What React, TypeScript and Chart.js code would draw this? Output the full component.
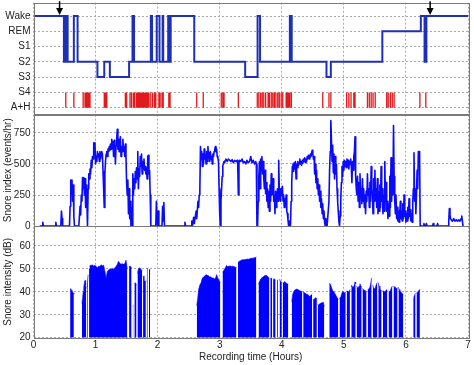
import React, { useEffect, useRef } from 'react';
import { Chart, registerables } from 'chart.js';
Chart.register(...registerables);

// ---- Data ----
const stageLabels = ['A+H', 'S4', 'S3', 'S2', 'S1', 'REM', 'Wake'];
const hypnoTimes = [0, 0.49, 0.52, 0.55, 0.65, 0.71, 1.03, 1.14, 1.23, 1.54, 1.595, 1.62, 1.89, 1.91, 1.985, 2.03, 2.08, 2.09, 2.17, 2.2, 2.21, 2.59, 3.41, 3.61, 3.65, 4.13, 4.16, 4.72, 4.79, 5.62, 6.24, 6.3, 6.33, 7];
const hypnoStages = ['Wake', 'S2', 'Wake', 'S2', 'Wake', 'S2', 'S3', 'S2', 'S3', 'S2', 'Wake', 'S2', 'Wake', 'S2', 'Wake', 'S2', 'Wake', 'S2', 'Wake', 'S2', 'Wake', 'S2', 'S3', 'Wake', 'S2', 'Wake', 'S2', 'S3', 'S2', 'REM', 'Wake', 'S2', 'Wake', 'Wake'];
const eventTimes = [0.52, 0.65, 0.8, 0.83, 0.85, 0.87, 0.89, 0.91, 1.14, 1.16, 1.18, 1.48, 1.5, 1.555, 1.58, 1.61, 1.63,
  1.66, 1.68, 1.7, 1.72, 1.74, 1.76, 1.78, 1.8, 1.82, 1.84, 1.86, 1.89, 1.92, 1.95, 1.97, 2.02, 2.04, 2.07, 2.09, 2.18, 2.2,
  2.63, 2.735, 3.025, 3.05, 3.07, 3.3, 3.605, 3.63, 3.66, 3.685, 3.71, 3.74, 3.78, 3.8, 3.83, 3.855, 3.88, 3.905, 3.935, 3.96,
  3.99, 4.015, 4.07, 4.09, 4.11, 4.13, 4.155, 4.66, 4.76, 4.79, 5.045, 5.08, 5.115, 5.16, 5.18, 5.38, 5.41, 5.44, 5.47, 5.505,
  5.69, 5.715, 5.75, 5.78, 5.81, 6.225, 6.32];
const arrowTimes = [0.42, 6.39];

const snoreIndex: [number, number][] = [
  [0.1, 0], [0.14, 0], [0.15, 30], [0.16, 0], [0.35, 0], [0.36, 30], [0.37, 0], [0.44, 0], [0.45, 120], [0.46, 60], [0.47, 0],
  [0.58, 0], [0.59, 160], [0.6, 370], [0.61, 250], [0.62, 370], [0.63, 200], [0.64, 330], [0.65, 80], [0.66, 0], [0.73, 0],
  [0.74, 80], [0.75, 160], [0.76, 90], [0.77, 250], [0.78, 200], [0.79, 390], [0.8, 300], [0.81, 390], [0.82, 250], [0.83, 380],
  [0.84, 150], [0.85, 330], [0.86, 200], [0.87, 0], [0.88, 300], [0.89, 420], [0.9, 380], [0.91, 460], [0.92, 420], [0.93, 530],
  [0.94, 470], [0.95, 560], [0.96, 540], [0.97, 670], [0.98, 600], [0.99, 670], [1.0, 500], [1.01, 560], [1.02, 520], [1.03, 600],
  [1.04, 560], [1.05, 580], [1.06, 520], [1.07, 600], [1.08, 540], [1.09, 590], [1.1, 600], [1.11, 580], [1.12, 440], [1.13, 300],
  [1.14, 150], [1.15, 420], [1.16, 520], [1.17, 580], [1.18, 600], [1.19, 560], [1.2, 620], [1.21, 600], [1.22, 640], [1.23, 610],
  [1.24, 660], [1.25, 620], [1.26, 700], [1.27, 640], [1.28, 680], [1.29, 560], [1.3, 690], [1.31, 620], [1.32, 500], [1.33, 650],
  [1.34, 700], [1.35, 780], [1.36, 620], [1.37, 700], [1.38, 600], [1.39, 680], [1.4, 720], [1.41, 560], [1.42, 640], [1.43, 600],
  [1.44, 700], [1.45, 620], [1.46, 640], [1.47, 560], [1.48, 660], [1.49, 560], [1.5, 350], [1.51, 250], [1.52, 370], [1.53, 100],
  [1.54, 300], [1.55, 60], [1.56, 200], [1.57, 0], [1.58, 150], [1.59, 0], [1.6, 420], [1.61, 250], [1.62, 380], [1.63, 300],
  [1.64, 440], [1.65, 350], [1.66, 470], [1.67, 380], [1.68, 600], [1.69, 300], [1.7, 460], [1.71, 400], [1.72, 560], [1.73, 480],
  [1.74, 580], [1.75, 420], [1.76, 520], [1.77, 460], [1.78, 540], [1.79, 450], [1.8, 480], [1.81, 420], [1.82, 470], [1.83, 380],
  [1.84, 560], [1.85, 570], [1.86, 420], [1.87, 450], [1.88, 250], [1.89, 0], [1.97, 0], [1.98, 200], [1.99, 60], [2.0, 0],
  [2.01, 120], [2.02, 0], [2.07, 0], [2.08, 160], [2.09, 40], [2.1, 190], [2.11, 0], [2.43, 0], [2.44, 30], [2.45, 0], [2.54, 0],
  [2.55, 40], [2.56, 0], [2.58, 70], [2.59, 20], [2.62, 120], [2.63, 60], [2.65, 200], [2.66, 150], [2.67, 250], [2.68, 300],
  [2.69, 640], [2.7, 540], [2.71, 600], [2.72, 480], [2.73, 580], [2.74, 500], [2.75, 620], [2.76, 540], [2.77, 580], [2.78, 500],
  [2.79, 600], [2.8, 520], [2.81, 640], [2.82, 560], [2.83, 590], [2.84, 520], [2.85, 600], [2.86, 540], [2.87, 560], [2.88, 500],
  [2.89, 580], [2.9, 560], [2.91, 600], [2.92, 620], [2.93, 640], [2.94, 600], [2.95, 620], [2.96, 560], [2.97, 550], [2.98, 520],
  [2.99, 300], [3.0, 100], [3.01, 0], [3.02, 200], [3.03, 300], [3.04, 400], [3.05, 490], [3.06, 500], [3.07, 520], [3.08, 510],
  [3.09, 530], [3.1, 540], [3.12, 520], [3.14, 540], [3.16, 530], [3.18, 520], [3.2, 535], [3.22, 510], [3.24, 530], [3.26, 520],
  [3.28, 530], [3.29, 500], [3.3, 250], [3.31, 510], [3.32, 530], [3.34, 520], [3.36, 540], [3.38, 510], [3.4, 520], [3.42, 500],
  [3.44, 530], [3.46, 510], [3.48, 520], [3.5, 560], [3.52, 510], [3.54, 530], [3.56, 500], [3.58, 520], [3.59, 500], [3.6, 0],
  [3.61, 0], [3.62, 200], [3.63, 400], [3.64, 520], [3.65, 300], [3.66, 540], [3.67, 450], [3.68, 560], [3.69, 420], [3.7, 520],
  [3.71, 380], [3.72, 300], [3.73, 450], [3.74, 260], [3.75, 350], [3.76, 200], [3.77, 300], [3.78, 150], [3.79, 280], [3.8, 120],
  [3.81, 330], [3.82, 200], [3.83, 420], [3.84, 250], [3.85, 300], [3.86, 380], [3.87, 200], [3.88, 250], [3.89, 100], [3.9, 280],
  [3.91, 150], [3.92, 220], [3.93, 300], [3.94, 200], [3.95, 530], [3.96, 300], [3.97, 250], [3.98, 200], [3.99, 300], [4.0, 250],
  [4.01, 320], [4.02, 200], [4.03, 250], [4.04, 150], [4.05, 220], [4.06, 180], [4.07, 250], [4.08, 120], [4.09, 100], [4.1, 50],
  [4.11, 0], [4.12, 40], [4.13, 0], [4.14, 0], [4.15, 200], [4.16, 350], [4.17, 480], [4.18, 500], [4.19, 440], [4.2, 510],
  [4.21, 460], [4.22, 520], [4.23, 380], [4.24, 500], [4.25, 470], [4.26, 520], [4.27, 490], [4.28, 510], [4.29, 540], [4.3, 500],
  [4.31, 520], [4.32, 490], [4.33, 530], [4.34, 510], [4.35, 540], [4.36, 520], [4.37, 550], [4.38, 510], [4.39, 540], [4.4, 520],
  [4.41, 560], [4.42, 540], [4.43, 570], [4.44, 560], [4.45, 540], [4.46, 580], [4.47, 560], [4.48, 590], [4.49, 610], [4.5, 580],
  [4.51, 540], [4.52, 560], [4.53, 420], [4.54, 500], [4.55, 350], [4.56, 450], [4.57, 300], [4.58, 380], [4.59, 250], [4.6, 330],
  [4.61, 200], [4.62, 280], [4.63, 150], [4.64, 220], [4.65, 100], [4.66, 180], [4.67, 60], [4.68, 120], [4.69, 30], [4.7, 0],
  [4.71, 60], [4.72, 0], [4.73, 0], [4.76, 200], [4.77, 450], [4.78, 600], [4.79, 850], [4.8, 700], [4.81, 520], [4.82, 650],
  [4.83, 430], [4.84, 580], [4.85, 380], [4.86, 560], [4.87, 420], [4.88, 500], [4.89, 300], [4.9, 200], [4.91, 120], [4.92, 40],
  [4.93, 0], [4.94, 80], [4.95, 200], [4.96, 350], [4.97, 480], [4.98, 400], [4.99, 520], [5.0, 450], [5.01, 530], [5.02, 480],
  [5.03, 520], [5.04, 470], [5.05, 540], [5.06, 480], [5.07, 530], [5.08, 460], [5.09, 520], [5.1, 500], [5.11, 540], [5.12, 480],
  [5.13, 350], [5.14, 520], [5.15, 450], [5.16, 560], [5.17, 600], [5.18, 720], [5.19, 400], [5.2, 300], [5.21, 250], [5.22, 400],
  [5.23, 200], [5.24, 350], [5.25, 150], [5.26, 420], [5.27, 250], [5.28, 300], [5.29, 180], [5.3, 380], [5.31, 200], [5.32, 300],
  [5.33, 150], [5.34, 250], [5.35, 100], [5.36, 280], [5.37, 200], [5.38, 420], [5.39, 250], [5.4, 300], [5.41, 150], [5.42, 350],
  [5.43, 200], [5.44, 480], [5.45, 300], [5.46, 250], [5.47, 100], [5.48, 380], [5.49, 200], [5.5, 450], [5.51, 250], [5.52, 300],
  [5.53, 150], [5.54, 380], [5.55, 100], [5.56, 280], [5.57, 120], [5.58, 330], [5.59, 150], [5.6, 480], [5.61, 200], [5.62, 300],
  [5.63, 100], [5.64, 250], [5.65, 120], [5.66, 520], [5.67, 200], [5.68, 350], [5.69, 120], [5.7, 200], [5.71, 60], [5.72, 180],
  [5.73, 80], [5.74, 400], [5.75, 150], [5.76, 550], [5.77, 200], [5.78, 480], [5.79, 250], [5.8, 810], [5.81, 400], [5.82, 200],
  [5.83, 100], [5.84, 250], [5.85, 60], [5.86, 150], [5.87, 40], [5.88, 120], [5.89, 30], [5.9, 100], [5.91, 200], [5.92, 60],
  [5.93, 120], [5.94, 40], [5.95, 180], [5.96, 60], [5.97, 250], [5.98, 80], [5.99, 120], [6.0, 30], [6.01, 100], [6.02, 40],
  [6.03, 150], [6.04, 60], [6.05, 220], [6.06, 80], [6.07, 130], [6.08, 40], [6.09, 100], [6.1, 30], [6.11, 200], [6.12, 300],
  [6.13, 590], [6.14, 200], [6.15, 300], [6.16, 100], [6.17, 250], [6.18, 450], [6.19, 300], [6.2, 600], [6.21, 550], [6.22, 600],
  [6.23, 0], [6.28, 0], [6.29, 20], [6.3, 0], [6.32, 0], [6.33, 20], [6.34, 0], [6.43, 0], [6.44, 20], [6.45, 0], [6.5, 0],
  [6.51, 20], [6.52, 0], [6.68, 0], [6.69, 40], [6.7, 140], [6.71, 90], [6.72, 60], [6.73, 50], [6.75, 40], [6.77, 60],
  [6.79, 40], [6.81, 50], [6.83, 40], [6.85, 50], [6.87, 40], [6.89, 60], [6.9, 80], [6.91, 40], [6.92, 0],
];

const intensity: [number, number | null][] = [
  [0.59, 41.2], [0.6, 41.4], [0.61, 40.8], [0.62, 40.5], [0.63, 40], [0.64, 39.5], [0.65, 39], [0.655, null],
  [0.78, 35], [0.79, 37], [0.8, 40], [0.81, 42], [0.82, 44], [0.83, 45], [0.84, 43], [0.85, 41.4], [0.855, null],
  [0.865, 42], [0.87, 44], [0.88, 47.5], [0.885, null], [0.895, 50], [0.91, 51.6], [0.93, 51.5], [0.95, 51.8], [0.97, 51.2],
  [0.99, 51.6], [1.01, 51], [1.03, 50.5], [1.05, 51.2], [1.07, 51], [1.09, 51.8], [1.11, 51.4], [1.13, 51.6], [1.15, 49],
  [1.17, 46], [1.19, 49], [1.21, 49.5], [1.23, 50], [1.25, 49.8], [1.27, 50.2], [1.29, 50], [1.31, 50.5], [1.33, 51],
  [1.35, 52], [1.37, 53.3], [1.39, 52.5], [1.41, 52], [1.43, 52.3], [1.45, 52], [1.47, 52.3], [1.49, 53.8], [1.5, 52],
  [1.51, 50], [1.52, null], [1.54, 51], [1.56, 51.2], [1.58, 50.5], [1.59, null], [1.6, 34], [1.61, 34.2], [1.615, null],
  [1.625, 43.5], [1.64, 44], [1.66, 43], [1.665, null], [1.675, 48], [1.69, 50], [1.71, 50.5], [1.73, 50], [1.75, 49],
  [1.755, null], [1.765, 47], [1.78, 45], [1.8, 44.5], [1.81, 45], [1.815, null], [1.825, 50.4], [1.84, 50], [1.85, null],
  [1.86, 50], [1.88, 49.5], [1.885, null],
  [2.63, 34], [2.645, 37], [2.66, 41], [2.68, 43], [2.7, 44], [2.72, 46], [2.74, 46.5], [2.76, 47], [2.78, 47.5], [2.8, 47.2],
  [2.82, 47], [2.84, 46.5], [2.86, 46.5], [2.88, 46], [2.9, 46], [2.92, 45.5], [2.94, 46.5], [2.95, 47.5], [2.97, 46],
  [2.99, 45], [3.01, 44], [3.025, null], [3.045, 48.5], [3.07, 49.5], [3.09, 50.5], [3.11, 51.5], [3.13, 51], [3.15, 51.2],
  [3.17, 51.3], [3.19, 51], [3.21, 51.2], [3.23, 51], [3.25, 50.7], [3.27, 50.7], [3.285, null], [3.295, 53], [3.31, 53.3],
  [3.33, 53.5], [3.35, 53.9], [3.37, 54], [3.39, 54], [3.41, 54.1], [3.43, 54.2], [3.45, 54.3], [3.47, 54.2], [3.49, 54.5],
  [3.51, 54.6], [3.53, 54.7], [3.55, 54.8], [3.57, 55], [3.59, 55.1], [3.6, null],
  [3.625, 43.3], [3.64, 44.5], [3.66, 45.5], [3.68, 46.2], [3.7, 46.5], [3.72, 47], [3.745, 47.2], [3.76, 47], [3.78, 46.5],
  [3.8, 46], [3.805, null], [3.815, 46], [3.83, 45.8], [3.845, 46], [3.85, null], [3.86, 45.5], [3.88, 45.6], [3.9, 45.2],
  [3.915, null], [3.925, 45], [3.94, 45.2], [3.955, null], [3.965, 45.5], [3.98, 44.5], [4.0, 44.2], [4.005, null],
  [4.015, 44], [4.03, 44], [4.05, 44.5], [4.07, 43.8], [4.09, 43.5], [4.105, 43.2], [4.11, null],
  [4.16, 35.6], [4.175, 38.8], [4.19, 40], [4.21, 40.8], [4.24, 41.2], [4.26, 41], [4.29, 40.5], [4.31, 40.3], [4.33, 40],
  [4.335, null], [4.345, 40], [4.37, 39.5], [4.4, 39], [4.42, 38.8], [4.45, 38], [4.47, 38.5], [4.49, 39], [4.495, null],
  [4.505, 36.5], [4.53, 37], [4.55, 37.5], [4.565, 37], [4.57, null], [4.58, 34.5], [4.59, 34.2], [4.61, 34.8], [4.625, 35],
  [4.65, 35.2], [4.67, 35.5], [4.685, 33.5], [4.69, null],
  [4.765, 43.6], [4.78, 43.5], [4.8, 42], [4.815, 40.8], [4.83, 40.4], [4.85, 39.5], [4.872, 38.5], [4.89, 37.5], [4.91, 36.5],
  [4.92, null], [4.93, 37], [4.953, 38], [4.97, 39.5], [4.98, 40.2], [5.0, 39.8], [5.017, 39.5], [5.03, 40], [5.035, null],
  [5.045, 40.6], [5.07, 40], [5.085, 40.5], [5.098, 41], [5.11, null], [5.12, 42.2], [5.125, 42.9], [5.14, 42], [5.152, 42],
  [5.17, 43], [5.18, 44.3], [5.19, 43.5], [5.195, null], [5.205, 42.5], [5.22, 42], [5.232, 41.5], [5.245, 42.5], [5.259, 43.5],
  [5.27, 42.8], [5.286, 42], [5.29, null], [5.3, 41.5], [5.313, 41], [5.325, 40.8], [5.34, 40.5], [5.355, 40.2], [5.366, 40],
  [5.375, null], [5.385, 41], [5.393, 41], [5.405, 41.5], [5.42, 42], [5.435, 44], [5.447, 46.1], [5.455, null], [5.465, 43],
  [5.474, 42], [5.487, 41.5], [5.5, 41], [5.515, 42.5], [5.527, 43.5], [5.54, 44], [5.545, null], [5.555, 44], [5.567, 42.5],
  [5.581, 41], [5.595, 40.8], [5.608, 40.5], [5.62, null], [5.63, 40.5], [5.645, 40.3], [5.662, 40], [5.676, 40.5], [5.689, 41],
  [5.7, 40.8], [5.71, null], [5.72, 40.5], [5.73, 40.2], [5.742, 40], [5.755, 41], [5.769, 42], [5.782, 42.5], [5.79, null],
  [5.8, 42.5], [5.81, 42.2], [5.823, 42], [5.837, 41.8], [5.85, 41.5], [5.865, 41.8], [5.87, null], [5.88, 42], [5.89, 41],
  [5.903, 40.5], [5.917, 40], [5.93, 39.5], [5.945, 39.2], [5.957, 39], [5.96, null],
  [6.118, 37], [6.13, 38], [6.145, 39], [6.155, 39.3], [6.16, null], [6.17, 39.5], [6.185, 39.8], [6.2, 40.3], [6.215, 40.8],
  [6.225, 41.2], [6.23, null],
];

const xTicks = [0, 1, 2, 3, 4, 5, 6, 7];
const stageTicks = [0, 1, 2, 3, 4, 5, 6];
const indexTicks = [0, 250, 500, 750];
const dbTicks = [20, 30, 40, 50, 60];

const FONT = { family: 'Liberation Sans, Arial, sans-serif', size: 10 };
const TEXT = '#222222';
const GRID = '#aaaaaa';

const framePlugin = {
  id: 'frame',
  afterDatasetsDraw(chart: any) {
    const { ctx, chartArea } = chart;
    ctx.save();
    ctx.strokeStyle = '#7a7a7a';
    ctx.lineWidth = 1;
    for (const id of ['yH', 'yI', 'yD']) {
      const s = chart.scales[id];
      ctx.strokeRect(Math.round(chartArea.left) + 0.5, Math.round(s.top) + 0.5,
        Math.round(chartArea.right - chartArea.left), Math.round(s.bottom - s.top));
    }
    const xs = chart.scales.x;
    const yH = chart.scales.yH;
    const tip = yH.getPixelForValue(6) - 1;
    ctx.fillStyle = '#000';
    ctx.strokeStyle = '#000';
    ctx.lineWidth = 1.5;
    for (const t of arrowTimes) {
      const x = xs.getPixelForValue(t);
      ctx.beginPath();
      ctx.moveTo(x, chartArea.top - 1.5);
      ctx.lineTo(x, tip - 5);
      ctx.stroke();
      ctx.beginPath();
      ctx.moveTo(x - 3.5, tip - 7);
      ctx.lineTo(x + 3.5, tip - 7);
      ctx.lineTo(x, tip);
      ctx.closePath();
      ctx.fill();
    }
    ctx.restore();
  },
};

function yAxis(extra: any) {
  return {
    type: 'linear',
    position: 'left',
    stack: 'panels',
    stackWeight: 1,
    afterFit: (s: any) => { s.width = 33.5; s.paddingTop = 0; s.paddingBottom = 0; },
    grid: { color: GRID, lineWidth: 1, drawTicks: false },
    border: { display: false, dash: [2, 2] },
    ...extra,
  };
}

export default function App() {
  const ref = useRef<HTMLCanvasElement>(null);
  useEffect(() => {
    const stageIdx = (s: string) => stageLabels.indexOf(s);
    const hypno = hypnoTimes.map((t, i) => ({ x: t, y: stageIdx(hypnoStages[i]) }));
    const events = eventTimes.flatMap((t) => [{ x: t, y: 0 }, { x: t, y: 1 }, { x: t, y: null }]);
    const chart = new Chart(ref.current as HTMLCanvasElement, {
      type: 'line',
      data: {
        datasets: [
          { data: events as any, yAxisID: 'yH', xAxisID: 'x', borderColor: '#e3191c', borderWidth: 1.3, borderCapStyle: 'butt', spanGaps: false, pointRadius: 0 },
          { data: hypno, yAxisID: 'yH', xAxisID: 'x', borderColor: '#1e2fb8', borderWidth: 2, stepped: 'before', pointRadius: 0, borderJoinStyle: 'miter' },
          { data: snoreIndex.map(([x, y]) => ({ x, y })), yAxisID: 'yI', xAxisID: 'x', borderColor: '#0a0aff', borderWidth: 1.6, pointRadius: 0, borderJoinStyle: 'round' },
          { data: intensity.map(([x, y]) => ({ x, y })) as any, yAxisID: 'yD', xAxisID: 'x', borderColor: '#0000ff', backgroundColor: '#0000ff', borderWidth: 0.6, fill: 'start', spanGaps: false, pointRadius: 0 },
        ],
      },
      options: {
        responsive: false,
        maintainAspectRatio: false,
        animation: false,
        layout: { padding: { top: 2.7, right: 6, bottom: 0, left: 0 } },
        plugins: { legend: { display: false }, tooltip: { enabled: false } },
        elements: { point: { radius: 0 }, line: { tension: 0 } },
        scales: {
          x: {
            type: 'linear', min: 0, max: 7,
            afterBuildTicks: (s: any) => { s.ticks = xTicks.map((v) => ({ value: v })); },
            afterFit: (s: any) => { s.height = 27.3; },
            grid: { color: GRID, lineWidth: 1, drawTicks: false },
            border: { display: false, dash: [2, 2] },
            ticks: { font: FONT, color: TEXT, padding: 2, maxRotation: 0, autoSkip: false },
            title: { display: true, text: 'Recording time (Hours)', font: FONT, color: TEXT, padding: { top: 0, bottom: 2 } },
          },
          yH: yAxis({
            weight: 3, min: -0.44, max: 6.875,
            afterBuildTicks: (s: any) => { s.ticks = stageTicks.map((v) => ({ value: v })); },
            ticks: { font: FONT, color: TEXT, padding: 3, autoSkip: false, callback: (v: any) => stageLabels[v] },
          }),
          yI: yAxis({
            weight: 2, min: 0, max: 900,
            afterBuildTicks: (s: any) => { s.ticks = indexTicks.map((v) => ({ value: v })); },
            ticks: { font: FONT, color: TEXT, padding: 3, autoSkip: false },
            title: { display: true, text: 'Snore index (events/hr)', font: FONT, color: TEXT, padding: { top: 2, bottom: 0 } },
          }),
          yD: yAxis({
            weight: 1, min: 20, max: 68.7,
            afterBuildTicks: (s: any) => { s.ticks = dbTicks.map((v) => ({ value: v })); },
            ticks: { font: FONT, color: TEXT, padding: 3, autoSkip: false },
            title: { display: true, text: 'Snore intensity (dB)', font: FONT, color: TEXT, padding: { top: 2, bottom: 0 } },
          }),
        } as any,
      },
      plugins: [framePlugin],
    } as any);
    return () => chart.destroy();
  }, []);
  return (
    <div style={{ position: 'absolute', left: 0, top: 0, width: 474, height: 365, background: '#fff' }}>
      <canvas ref={ref} width={474} height={365} style={{ width: 474, height: 365, display: 'block' }} />
    </div>
  );
}
